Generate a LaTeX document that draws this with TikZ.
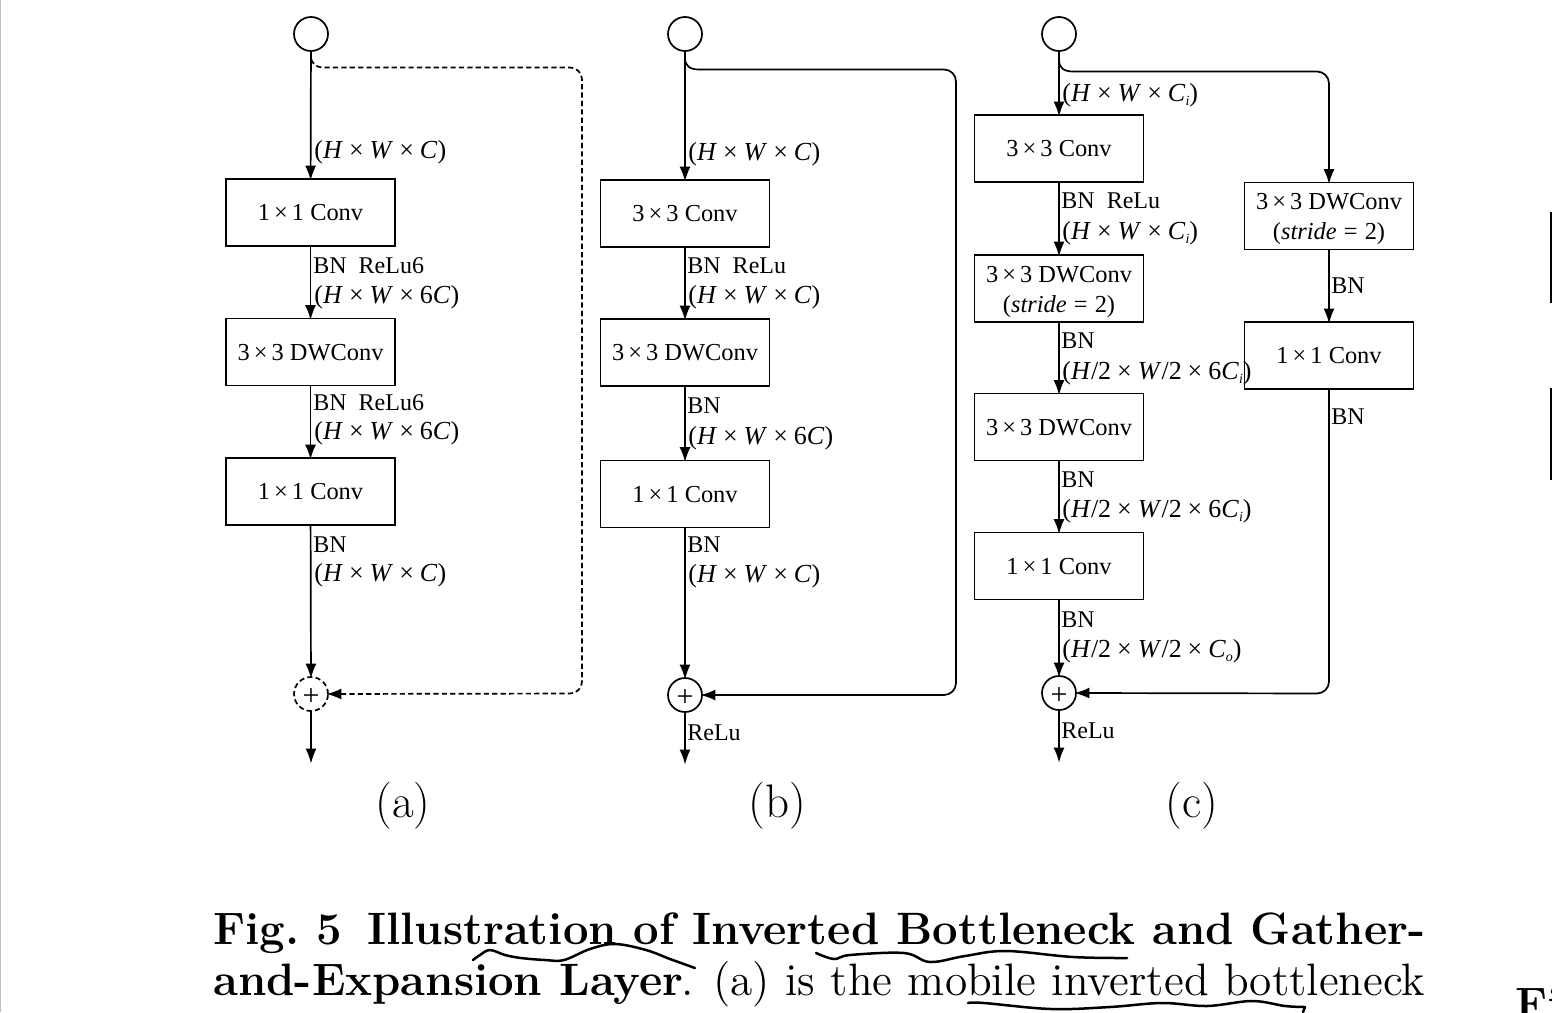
\documentclass[tikz,border=0pt]{standalone}
\usepackage{fontspec}
\usetikzlibrary{arrows.meta}
\newfontfamily\dg{Liberation Serif}
\newfontfamily\capreg{lmroman12-regular.otf}
\frenchspacing
\newcommand{\I}[1]{\textit{#1}}
\newcommand{\BI}[1]{{\fontsize{13}{14}\selectfont\textit{#1}}}
\newcommand{\X}{\,×\,}
\newcommand{\Y}{\hspace{3pt}{\fontsize{13}{14}\selectfont ×}\hspace{3pt}}
\newcommand{\N}[1]{{\fontsize{13}{14}\selectfont #1}}
\newcommand{\HWC}[1]{\N{(}\BI{H}\Y\BI{W}\Y#1\N{)}}
\newcommand{\HWT}[1]{\N{(}\BI{H}\N{/2}\Y\BI{W}\N{/2}\Y#1\N{)}}
\newcommand{\Ci}{\BI{C}\raisebox{-0.4ex}{\scriptsize\I{i}}}
\newcommand{\Co}{\BI{C}\raisebox{-0.4ex}{\scriptsize\I{o}}}
\newcommand{\Lo}[1]{\raisebox{-4.2pt}[0pt][0pt]{#1}}
\newcommand{\Two}[2]{\raisebox{-4.25pt}[0pt][0pt]{\begin{tabular}{@{}c@{}}#1\\#2\end{tabular}}}
\newcommand{\St}{(\I{stride}\hspace{3.6pt}=\hspace{3.6pt}2)}
\newcommand{\Pl}{\raisebox{-5.6pt}[0pt][0pt]{+}}
\tikzset{
 x=0.5pt,y=-0.5pt,
 box/.style={draw,line width=0.85pt,outer sep=0pt,minimum width=84.5pt,minimum height=33.5pt,inner sep=0pt,font=\dg\fontsize{12.2}{15}\selectfont},
 io/.style={draw,circle,line width=0.85pt,outer sep=0pt,minimum size=17pt,inner sep=0pt},
 sumnode/.style={draw,circle,line width=0.85pt,outer sep=0pt,minimum size=17pt,inner sep=0pt,font=\dg\fontsize{15}{15}\selectfont},
 lab/.style={anchor=west,inner sep=0pt,font=\dg\fontsize{12}{14}\selectfont},
 subcap/.style={anchor=center,inner sep=0pt,font=\fontsize{23.5}{26}\selectfont},
 captxt/.style={anchor=base west,inner sep=0pt,font=\fontsize{22.7}{25}\selectfont},
 captreg/.style={anchor=base west,inner sep=0pt,font=\capreg\fontsize{22.7}{25}\selectfont},
 conn/.style={line width=0.85pt,shorten >=-0.8pt,-{Latex[length=7.5pt,width=5.5pt]}},
 dashc/.style={conn,dash pattern=on 2.6pt off 1.6pt},
 ink/.style={line width=1.25pt,line cap=round,line join=round}
}
\begin{document}
\begin{tikzpicture}
\useasboundingbox (0,0) rectangle (1552,1012);
\draw[line width=0.5pt,black!25] (0.5,0) -- (0.5,1012);
% column a
\node[io] (a0) at (311,34) {};
\node[box] (a1) at (310.5,212.5) {\Lo{1\X1 Conv}};
\node[box] (a2) at (310.5,352) {\Lo{3\X3 DWConv}};
\node[box] (a3) at (310.5,491.5) {\Lo{1\X1 Conv}};
\node[sumnode,dash pattern=on 2.6pt off 1.6pt] (as) at (311,694) {\Pl};
\coordinate (ae) at (311,762);
\draw[conn] (a0) -- (a1);
\draw[conn] (a1) -- (a2);
\draw[conn] (a2) -- (a3);
\draw[conn] (a3) -- (as);
\draw[conn] (as) -- (ae);
\draw[dashc] (a0.south) -- (311,56) .. controls (311,64) and (316,67.5) .. (325,67.5) [rounded corners=6pt] -- (582,67.5) -- (582,693.5) -- (as.east);
\node[lab] at (314,152) {\HWC{\BI{C}}};
\node[lab] at (313,266) {BN\ \ ReLu6};
\node[lab] at (314,297) {\HWC{\N{6}\BI{C}}};
\node[lab] at (313,403) {BN\ \ ReLu6};
\node[lab] at (314,433) {\HWC{\N{6}\BI{C}}};
\node[lab] at (313,545) {BN};
\node[lab] at (314,575) {\HWC{\BI{C}}};
\node[subcap] at (403,806) {(a)};
% column b
\node[io] (b0) at (685,34) {};
\node[box] (b1) at (685,213.5) {\Lo{3\X3 Conv}};
\node[box] (b2) at (685,352.5) {\Lo{3\X3 DWConv}};
\node[box] (b3) at (685,494) {\Lo{1\X1 Conv}};
\node[sumnode] (bs) at (685,695) {\Pl};
\coordinate (be) at (685,763);
\draw[conn] (b0) -- (b1);
\draw[conn] (b1) -- (b2);
\draw[conn] (b2) -- (b3);
\draw[conn] (b3) -- (bs);
\draw[conn] (bs) -- (be);
\draw[conn] (b0.south) -- (685,58) .. controls (685,66) and (690,69.5) .. (699,69.5) [rounded corners=6pt] -- (956,69.5) -- (956,695) -- (bs.east);
\node[lab] at (688,154) {\HWC{\BI{C}}};
\node[lab] at (687,266) {BN\ \ ReLu};
\node[lab] at (688,297) {\HWC{\BI{C}}};
\node[lab] at (687,406) {BN};
\node[lab] at (688,438) {\HWC{\N{6}\BI{C}}};
\node[lab] at (687,545) {BN};
\node[lab] at (688,576) {\HWC{\BI{C}}};
\node[subcap] at (777,806) {(b)};
\node[lab] at (687,733) {ReLu};
% column c
\node[io] (c0) at (1059,34) {};
\node[box] (c1) at (1059,148.5) {\Lo{3\X3 Conv}};
\node[box] (c2) at (1059,288.5) {\Two{3\X3 DWConv}{\St}};
\node[box] (c3) at (1059,427) {\Lo{3\X3 DWConv}};
\node[box] (c4) at (1059,566) {\Lo{1\X1 Conv}};
\node[sumnode] (cs) at (1059,693) {\Pl};
\coordinate (ce) at (1059,761);
\node[box] (r1) at (1329,216) {\Two{3\X3 DWConv}{\St}};
\node[box] (r2) at (1329,355.5) {\Lo{1\X1 Conv}};
\draw[conn] (c0) -- (c1);
\draw[conn] (c1) -- (c2);
\draw[conn] (c2) -- (c3);
\draw[conn] (c3) -- (c4);
\draw[conn] (c4) -- (cs);
\draw[conn] (cs) -- (ce);
\draw[conn] (c0.south) -- (1059,60) .. controls (1059,68) and (1064,71.5) .. (1073,71.5) [rounded corners=6pt] -- (1329,71.5) -- (r1.north);
\draw[conn] (r1) -- (r2);
\draw[conn,rounded corners=6pt] (r2.south) -- (1329,693.5) -- (cs.east);
\node[lab] at (1062,95) {\HWC{\Ci}};
\node[lab] at (1061,201) {BN\ \ ReLu};
\node[lab] at (1062,233) {\HWC{\Ci}};
\node[lab] at (1061,341) {BN};
\node[lab] at (1062,373) {\HWT{\N{6}\Ci}};
\node[lab] at (1061,480) {BN};
\node[lab] at (1062,511) {\HWT{\N{6}\Ci}};
\node[lab] at (1061,620) {BN};
\node[lab] at (1062,651) {\HWT{\Co}};
\node[lab] at (1061,731) {ReLu};
\node[lab] at (1331,286) {BN};
\node[lab] at (1331,417) {BN};
\node[subcap] at (1192,806) {(c)};
% margin rules of the page
\draw[line width=1pt] (1551,212) -- (1551,303);
\draw[line width=1pt] (1551,388) -- (1551,480);
% caption
\node[captxt] at (213,944) {\bfseries Fig. 5};
\node[captxt] at (367,944) {\bfseries\makebox[529pt][s]{Illustration of Inverted Bottleneck and Gather-}};
\node[captxt] at (213,995) {\bfseries and-Expansion Layer};
\node[captreg] at (681,995) {.};
\node[captreg] at (713,995) {\makebox[356pt][s]{(a) is the mobile inverted bottleneck}};
\node[captxt] at (1515,1019) {\bfseries Fi};
% handwriting
\draw[ink] plot[smooth,tension=0.6] coordinates {(473,960) (480,955) (490,950) (505,955) (521,958) (545,960) (564,960) (590,949) (615,944) (646,950) (670,959) (695,968)};
\draw[ink] plot[smooth,tension=0.6] coordinates {(816,953) (834,959) (850,955) (904,953) (930,962) (965,956) (1006,951) (1073,957) (1127,958)};
\draw[ink] plot[smooth,tension=0.6] coordinates {(968,1003) (984,1003) (1051,1009) (1110,1007) (1162,1003) (1207,1006) (1252,1001) (1285,1006) (1305,1007)} -- (1303,1012);
\end{tikzpicture}
\end{document}
